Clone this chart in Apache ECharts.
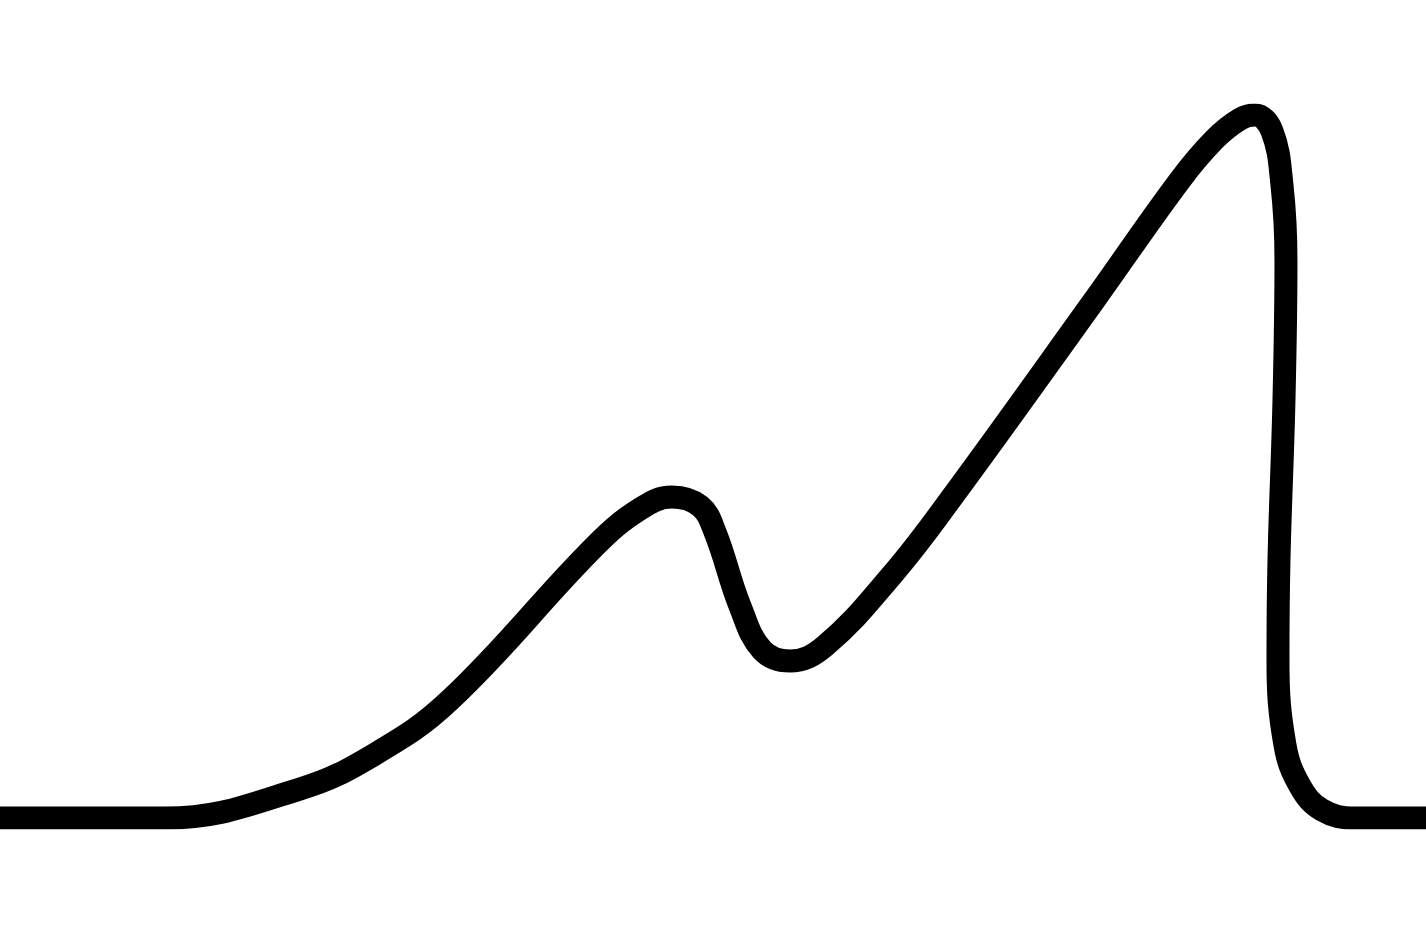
<!DOCTYPE html>
<html>
<head>
<meta charset="utf-8">
<script src="https://cdn.jsdelivr.net/npm/echarts@6/dist/echarts.min.js"></script>
<style>html,body{margin:0;padding:0;background:#fff}#c{width:1426px;height:950px}</style>
</head>
<body>
<div id="c"></div>
<script>
// Curve samples: x position (0..100) and height (0..100)
const xValues = [0, 11.57, 21.04, 26.30, 31.56, 41.73, 44.88, 47.12, 49.09, 50.14, 51.89, 53.44, 55.40, 57.85, 62.55, 66.62, 76.65, 82.75, 85.20, 86.96, 88.01, 89.20, 89.90, 90.18, 90.04, 89.69, 89.62, 90.11, 91.16, 92.71, 95.02, 97.48, 100];
const yValues = [0, 0, 4.13, 9.10, 16.79, 38.69, 43.95, 45.66, 44.38, 40.68, 30.16, 23.90, 22.33, 24.47, 34.57, 45.23, 73.40, 90.75, 96.59, 99.43, 100, 97.72, 90.04, 79.37, 59.46, 36.70, 22.48, 10.38, 4.55, 1.14, 0, 0, 0];

const data = xValues.map((x, i) => [x, yValues[i]]);

const chart = echarts.init(document.getElementById('c'));
chart.setOption({
  animation: false,
  backgroundColor: '#ffffff',
  grid: { left: 0, right: 0, top: 115, bottom: 132 },
  xAxis: { type: 'value', min: 0, max: 100, show: false },
  yAxis: { type: 'value', min: 0, max: 100, show: false },
  series: [{
    type: 'line',
    data: data,
    smooth: 0.4,
    symbol: 'none',
    lineStyle: { color: '#000000', width: 23, cap: 'butt', join: 'round' }
  }]
});
</script>
</body>
</html>
